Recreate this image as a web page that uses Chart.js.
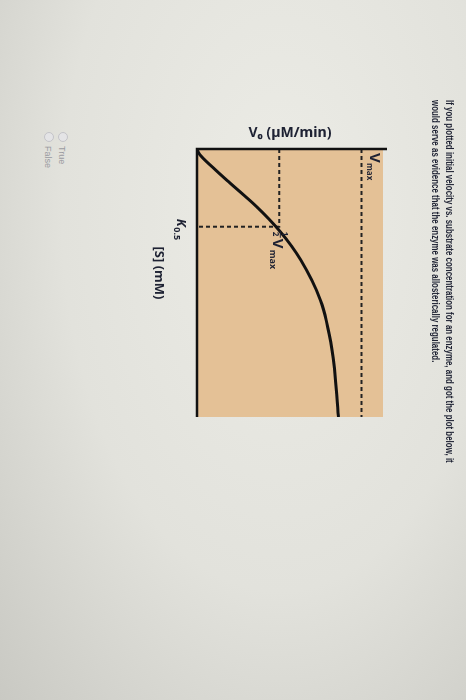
<!DOCTYPE html>
<html><head><meta charset="utf-8">
<script src="https://cdn.jsdelivr.net/npm/chart.js@4/dist/chart.umd.min.js"></script>
<style>
  html, body { margin: 0; width: 466px; height: 700px; overflow: hidden;
    background: radial-gradient(ellipse at 60% 30%, #ecece6 0%, #e2e2dc 55%, #c9c9c3 100%); }
  #page { position: absolute; left: 0; top: 0; width: 700px; height: 466px;
    transform-origin: 0 0; transform: translateX(466px) rotate(90deg);
    font-family: "Liberation Sans", Arial, sans-serif; color: #1e2233; }
  .q { position: absolute; left: 100px; font-weight: bold; font-size: 11px; white-space: nowrap;
    transform-origin: 0 0; transform: scaleX(0.72); filter: blur(0.3px); }
  .opt { position: absolute; left: 132px; font-size: 9px; color: #9a9aa0; }
  .opt i { display: inline-block; width: 8px; height: 8px; border-radius: 50%; border: 1px solid #c4c4c8;
    background: #e4e4e6; margin-right: 4px; vertical-align: -1px; }
  canvas { position: absolute; left: 0; top: 0; }
</style></head>
<body>
<div id="page">
  <div class="q" style="top:10px">If you plotted initial velocity vs. substrate concentration for an enzyme, and got the plot below, it</div>
  <div class="q" style="top:24px">would serve as evidence that the enzyme was allosterically regulated.</div>
  <div class="opt" style="top:398px"><i></i>True</div>
  <div class="opt" style="top:412px"><i></i>False</div>
  <canvas id="c" width="700" height="466"></canvas>
</div>
<script>
// substrate concentration (arbitrary units, 0..10) and initial velocity (fraction of Vmax)
const S  = [0, 0.15, 0.71, 1.27, 2.14, 3.08, 4.14, 5.64, 7.5, 10];
const V0 = [0, 0.01, 0.10, 0.20, 0.36, 0.505, 0.63, 0.75, 0.82, 0.86];
const VMAX = 1, HALF_VMAX = 0.5, K05 = 2.9;
const S_MAX = 10, V_TOP = 1.13;

const NAVY = '#1e2233', FILL = '#e4c196';

const deco = {
  id: 'deco',
  beforeDatasetsDraw(c) {
    const { ctx, chartArea: a } = c;
    ctx.save(); ctx.fillStyle = FILL;
    ctx.fillRect(a.left, a.top, a.width, a.height);
    ctx.restore();
  },
  afterDraw(c) {
    const { ctx, chartArea: a, scales: { x, y } } = c;
    ctx.save();
    // axis lines
    ctx.strokeStyle = '#111'; ctx.lineWidth = 2.5;
    ctx.beginPath(); ctx.moveTo(a.left, a.top - 4); ctx.lineTo(a.left, a.bottom); ctx.lineTo(a.right, a.bottom); ctx.stroke();
    ctx.fillStyle = NAVY; ctx.textBaseline = 'alphabetic';
    // y title (rotated)
    ctx.save();
    ctx.translate(a.left - 12, (a.top + a.bottom) / 2);
    ctx.rotate(-Math.PI / 2); ctx.textAlign = 'center';
    ctx.font = 'bold 14px "Open Sans", sans-serif';
    ctx.fillText('V\u2080 (\u03BCM/min)', 0, 0);
    ctx.restore();
    // x labels
    ctx.textAlign = 'center';
    ctx.font = 'italic bold 13px "Open Sans", sans-serif';
    ctx.fillText('K', x.getPixelForValue(K05) - 4, a.bottom + 20);
    ctx.font = 'bold 9px "Open Sans", sans-serif';
    ctx.fillText('0.5', x.getPixelForValue(K05) + 7, a.bottom + 23);
    ctx.font = 'bold 13px "Open Sans", sans-serif';
    ctx.fillText('[S] (mM)', (a.left + a.right) / 2 - 10, a.bottom + 42);
    // Vmax label
    ctx.textAlign = 'left';
    ctx.font = 'bold 15px "Open Sans", sans-serif';
    ctx.fillText('V', a.left + 4, y.getPixelForValue(VMAX) - 8);
    ctx.font = 'bold 8px "Open Sans", sans-serif';
    ctx.fillText('max', a.left + 14, y.getPixelForValue(VMAX) - 5);
    // half Vmax label
    const hy = y.getPixelForValue(HALF_VMAX), hx = x.getPixelForValue(K05);
    ctx.font = 'bold 8px "Open Sans", sans-serif';
    ctx.fillText('1', hx + 5, hy - 3);
    ctx.fillRect(hx + 4, hy - 1.5, 7, 1);
    ctx.fillText('2', hx + 5, hy + 6);
    ctx.font = 'bold 15px "Open Sans", sans-serif';
    ctx.fillText('V', hx + 12, hy + 6);
    ctx.font = 'bold 9px "Open Sans", sans-serif';
    ctx.fillText('max', hx + 23, hy + 9);
    ctx.restore();
  }
};

new Chart(document.getElementById('c'), {
  type: 'scatter',
  data: { datasets: [
    { data: S.map((s, i) => ({ x: s, y: V0[i] })), showLine: true, borderColor: '#111', borderWidth: 3,
      pointRadius: 0, tension: 0.4, cubicInterpolationMode: 'monotone' },
    { data: [{ x: 0, y: VMAX }, { x: S_MAX, y: VMAX }], showLine: true, borderColor: '#222', borderWidth: 2,
      borderDash: [4, 3], pointRadius: 0 },
    { data: [{ x: 0, y: HALF_VMAX }, { x: K05, y: HALF_VMAX }, { x: K05, y: 0 }], showLine: true,
      borderColor: '#222', borderWidth: 2, borderDash: [4, 3], pointRadius: 0 }
  ]},
  options: {
    responsive: false, animation: false,
    layout: { padding: { left: 141, right: 283, top: 83, bottom: 189 } },
    plugins: { legend: { display: false }, tooltip: { enabled: false } },
    scales: {
      x: { min: 0, max: S_MAX, ticks: { display: false }, grid: { display: false },
           border: { display: false } },
      y: { min: 0, max: V_TOP, ticks: { display: false }, grid: { display: false },
           border: { display: false } }
    }
  },
  plugins: [deco]
});
</script>
</body></html>
